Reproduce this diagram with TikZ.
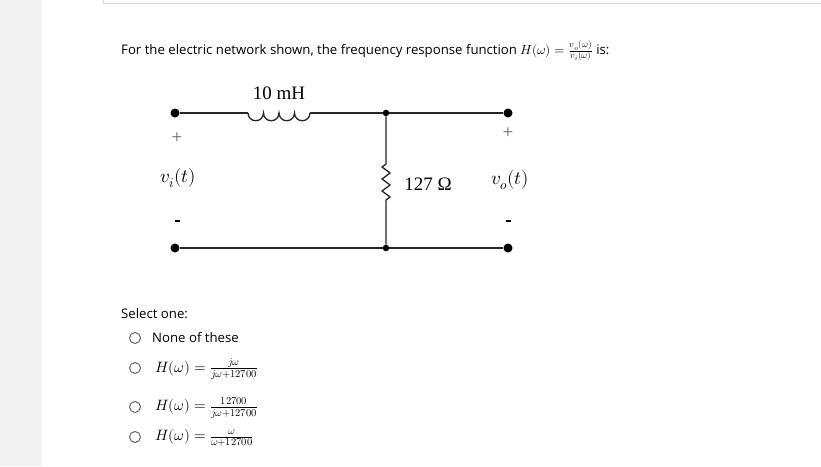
\documentclass[tikz,border=0pt]{standalone}
\usepackage{fontspec}
\setmainfont{Open Sans}
\newfontfamily\timesf{Liberation Serif}
\usepackage{amsmath}
\usepackage{unicode-math}
\setmathfont{Latin Modern Math}
\begin{document}
\begin{tikzpicture}[x=1pt,y=-1pt,
  wire/.style={line width=1.3pt,black!85},
  term/.style={circle,fill=black,inner sep=0pt,minimum size=9pt},
  jct/.style={circle,fill=black,inner sep=0pt,minimum size=6.5pt},
  txt/.style={font=\fontsize{13.2}{15}\selectfont,anchor=west,inner sep=0pt},
  opt/.style={circle,draw=black!60,line width=1pt,inner sep=0pt,minimum size=11pt},
  ser/.style={font=\fontsize{19}{21}\selectfont\timesf,inner sep=0pt}]
\useasboundingbox (0,0) rectangle (821,466);
\fill[white] (0,0) rectangle (821,466);
\fill[black!5] (0,0) rectangle (42,466);
\draw[black!15,line width=0.8pt] (103,0) -- (103,3) -- (821,3);
\node[txt] (title) at (121,51) {For the electric network shown, the frequency response function $H(\omega)=\frac{v_o(\omega)}{v_i(\omega)}$ is:};
% circuit
\node[term] (a) at (175,113) {};
\node[term] (b) at (508,113) {};
\node[term] (c) at (175,248) {};
\node[term] (d) at (508,248) {};
\node[jct] (j1) at (386,113) {};
\node[jct] (j2) at (386,248) {};
\coordinate (l1) at (248,113);
\coordinate (l2) at (310,113);
\coordinate (r1) at (386,164);
\coordinate (r2) at (386,200);
\draw[wire] (a) -- (l1);
\draw[wire] (l1) arc (180:0:7.75) arc (180:0:7.75) arc (180:0:7.75) arc (180:0:7.75);
\draw[wire] (l2) -- (j1) -- (b);
\draw[wire] (j1) -- (r1) -- ++(-4,3) -- ++(8,6) -- ++(-8,6) -- ++(8,6) -- ++(-8,6) -- ++(8,6) -- (r2) -- (j2);
\draw[wire] (c) -- (j2) -- (d);
\node[ser] (lL) at (279,93) {10 mH};
\node[ser] (lR) at (428,184) {127 Ω};
\node[ser,black!60] (p1) at (177,138) {+};
\node[ser,black!60] (p2) at (508,133) {+};
\node[ser] (m1) at (177,221) {\rule{5pt}{1.5pt}};
\node[ser] (m2) at (508,221) {\rule{5pt}{1.5pt}};
\node[ser,font=\fontsize{19}{21}\selectfont] (vi) at (178,178) {$v_i(t)$};
\node[ser,font=\fontsize{19}{21}\selectfont] (vo) at (510,180) {$v_o(t)$};
% options
\node[txt] (sel) at (121,314) {Select one:};
\node[opt] (o1) at (135,338) {};
\node[opt] (o2) at (135,368) {};
\node[opt] (o3) at (135,407) {};
\node[opt] (o4) at (135,437) {};
\node[txt] (t1) at (152,338) {None of these};
\node[txt,font=\fontsize{15}{17}\selectfont] (t2) at (155,369) {$H(\omega)=\frac{j\omega}{j\omega+12700}$};
\node[txt,font=\fontsize{15}{17}\selectfont] (t3) at (155,408) {$H(\omega)=\frac{12700}{j\omega+12700}$};
\node[txt,font=\fontsize{15}{17}\selectfont] (t4) at (155,438) {$H(\omega)=\frac{\omega}{\omega+12700}$};
\end{tikzpicture}
\end{document}
